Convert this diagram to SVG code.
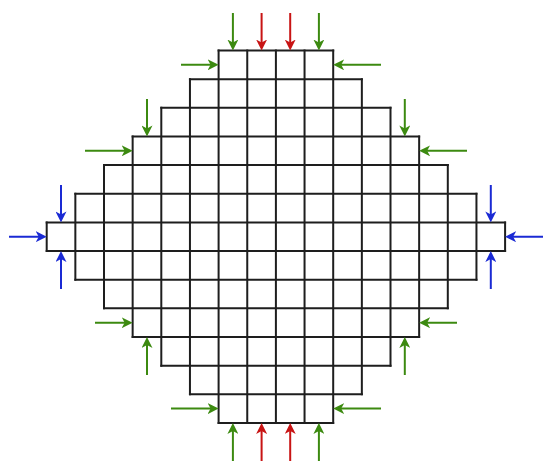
<svg xmlns="http://www.w3.org/2000/svg" width="550" height="472" viewBox="0 0 550 472">
<style>
.grid{stroke:#1e1e1e;stroke-width:2;stroke-linecap:square;fill:none}
.g{stroke:#3c8a10;stroke-width:2}
.r{stroke:#c81414;stroke-width:2}
.b{stroke:#1a2ad4;stroke-width:2}
</style>
<defs>
<marker id="ag" viewBox="0 0 11 11" refX="8" refY="5.5" markerWidth="11" markerHeight="11" markerUnits="userSpaceOnUse" orient="auto"><path d="M0,0 L11,5.5 L0,11 L3,5.5 Z" fill="#3c8a10"/></marker>
<marker id="ar" viewBox="0 0 11 11" refX="8" refY="5.5" markerWidth="11" markerHeight="11" markerUnits="userSpaceOnUse" orient="auto"><path d="M0,0 L11,5.5 L0,11 L3,5.5 Z" fill="#c81414"/></marker>
<marker id="ab" viewBox="0 0 11 11" refX="8" refY="5.5" markerWidth="11" markerHeight="11" markerUnits="userSpaceOnUse" orient="auto"><path d="M0,0 L11,5.5 L0,11 L3,5.5 Z" fill="#1a2ad4"/></marker>
</defs>
<rect width="550" height="472" fill="#fff"/>
<g id="grid" class="grid">
<path d="M218.6,50.5H333.2 M189.95,79.15H361.85 M161.3,107.8H390.5 M132.65,136.45H419.15 M104,165.1H447.8 M75.35,193.75H476.45 M46.7,222.4H505.1 M46.7,251.05H505.1 M75.35,279.7H476.45 M104,308.35H447.8 M132.65,337H419.15 M161.3,365.65H390.5 M189.95,394.3H361.85 M218.6,422.95H333.2"/>
<path d="M46.7,222.4V251.05 M75.35,193.75V279.7 M104,165.1V308.35 M132.65,136.45V337 M161.3,107.8V365.65 M189.95,79.15V394.3 M218.6,50.5V422.95 M247.25,50.5V422.95 M275.9,50.5V422.95 M304.55,50.5V422.95 M333.2,50.5V422.95 M361.85,79.15V394.3 M390.5,107.8V365.65 M419.15,136.45V337 M447.8,165.1V308.35 M476.45,193.75V279.7 M505.1,222.4V251.05"/>
</g>
<g id="connectors">
<line class="g" x1="232.9" y1="13" x2="232.9" y2="47.5" marker-end="url(#ag)"/>
<line class="r" x1="261.6" y1="13" x2="261.6" y2="47.5" marker-end="url(#ar)"/>
<line class="r" x1="290.2" y1="13" x2="290.2" y2="47.5" marker-end="url(#ar)"/>
<line class="g" x1="318.9" y1="13" x2="318.9" y2="47.5" marker-end="url(#ag)"/>
<line class="g" x1="232.9" y1="461" x2="232.9" y2="426" marker-end="url(#ag)"/>
<line class="r" x1="261.6" y1="461" x2="261.6" y2="426" marker-end="url(#ar)"/>
<line class="r" x1="290.2" y1="461" x2="290.2" y2="426" marker-end="url(#ar)"/>
<line class="g" x1="318.9" y1="461" x2="318.9" y2="426" marker-end="url(#ag)"/>
<line class="g" x1="181" y1="64.8" x2="215.6" y2="64.8" marker-end="url(#ag)"/>
<line class="g" x1="381" y1="64.8" x2="336.2" y2="64.8" marker-end="url(#ag)"/>
<line class="g" x1="85" y1="150.8" x2="129.65" y2="150.8" marker-end="url(#ag)"/>
<line class="g" x1="147" y1="99" x2="147" y2="133.45" marker-end="url(#ag)"/>
<line class="g" x1="467" y1="150.8" x2="422.15" y2="150.8" marker-end="url(#ag)"/>
<line class="g" x1="404.8" y1="99" x2="404.8" y2="133.45" marker-end="url(#ag)"/>
<line class="b" x1="9" y1="236.7" x2="43.7" y2="236.7" marker-end="url(#ab)"/>
<line class="b" x1="61" y1="185" x2="61" y2="219.4" marker-end="url(#ab)"/>
<line class="b" x1="61" y1="289" x2="61" y2="254.05" marker-end="url(#ab)"/>
<line class="b" x1="543" y1="236.7" x2="508.1" y2="236.7" marker-end="url(#ab)"/>
<line class="b" x1="490.8" y1="185" x2="490.8" y2="219.4" marker-end="url(#ab)"/>
<line class="b" x1="490.8" y1="289" x2="490.8" y2="254.05" marker-end="url(#ab)"/>
<line class="g" x1="95" y1="322.7" x2="129.65" y2="322.7" marker-end="url(#ag)"/>
<line class="g" x1="147" y1="375" x2="147" y2="340" marker-end="url(#ag)"/>
<line class="g" x1="457" y1="322.7" x2="422.15" y2="322.7" marker-end="url(#ag)"/>
<line class="g" x1="404.8" y1="375" x2="404.8" y2="340" marker-end="url(#ag)"/>
<line class="g" x1="171" y1="408.6" x2="215.6" y2="408.6" marker-end="url(#ag)"/>
<line class="g" x1="381" y1="408.6" x2="336.2" y2="408.6" marker-end="url(#ag)"/>
</g>
</svg>
